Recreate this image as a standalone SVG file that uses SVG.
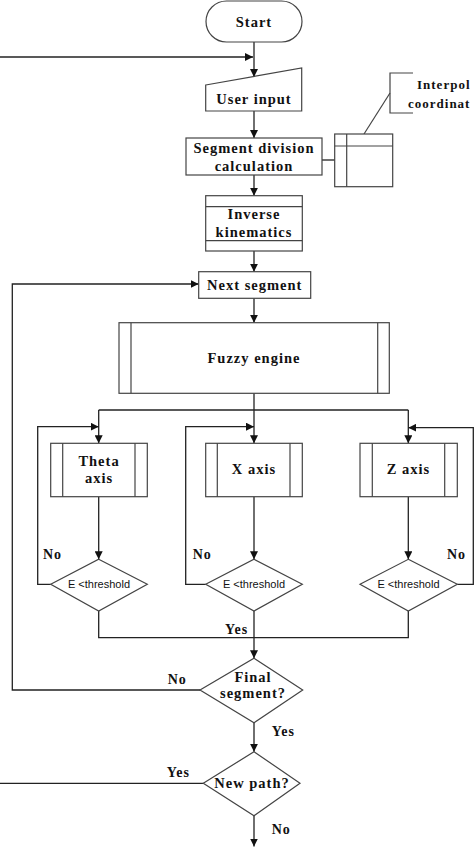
<svg xmlns="http://www.w3.org/2000/svg" width="474" height="847" viewBox="0 0 474 847">
<defs>
<marker id="ah" viewBox="0 0 10 10" refX="10" refY="5" markerWidth="8" markerHeight="8" markerUnits="userSpaceOnUse" orient="auto">
<path d="M0,0 L10,5 L0,10 z" fill="#111"/>
</marker>
<style>
.n{fill:#fff;stroke:#444;stroke-width:1.2}
.l{fill:none;stroke:#444;stroke-width:1.2}
.c{fill:none;stroke:#222;stroke-width:1.3}
.a{marker-end:url(#ah)}
.t{font-family:"Liberation Serif",serif;font-weight:bold;font-size:14.5px;letter-spacing:1px;fill:#111;text-anchor:middle}
.s{font-family:"Liberation Sans",Arial,sans-serif;font-size:11px;fill:#111;text-anchor:middle}
.lb{font-family:"Liberation Serif",serif;font-weight:bold;font-size:14px;letter-spacing:1px;fill:#111}
.an{font-family:"Liberation Serif",serif;font-weight:bold;font-size:13px;letter-spacing:1px;fill:#111}
</style>
</defs>
<rect width="474" height="847" fill="#fff"/>
<g id="connectors">
<line class="c a" x1="0" y1="57" x2="253" y2="57" style="stroke-width:1.6"/>
<line class="c a" x1="254" y1="42" x2="254" y2="77"/>
<line class="c a" x1="254" y1="111" x2="254" y2="138"/>
<line class="c" x1="322" y1="160" x2="335" y2="160"/>
<line class="c a" x1="254" y1="175" x2="254" y2="195.7"/>
<line class="c a" x1="254" y1="251" x2="254" y2="271.7"/>
<line class="c a" x1="254" y1="298.3" x2="254" y2="322.7"/>
<line class="c" x1="254" y1="393.3" x2="254" y2="410"/>
<line class="c" x1="98.7" y1="410" x2="408.3" y2="410"/>
<line class="c a" x1="98.7" y1="410" x2="98.7" y2="443.3"/>
<line class="c a" x1="254" y1="410" x2="254" y2="443.3"/>
<line class="c a" x1="408.3" y1="410" x2="408.3" y2="443.3"/>
<line class="c a" x1="98.7" y1="496.7" x2="98.7" y2="559.3"/>
<line class="c a" x1="254" y1="496.7" x2="254" y2="559.3"/>
<line class="c a" x1="408.3" y1="496.7" x2="408.3" y2="559.3"/>
<polyline class="c a" points="50.7,584.3 37.7,584.3 37.7,426.7 98.7,426.7"/>
<polyline class="c a" points="205.7,584.3 185.7,584.3 185.7,426.7 254,426.7"/>
<polyline class="c a" points="457.3,584.3 473.3,584.3 473.3,427.7 408.3,427.7"/>
<polyline class="c" points="98.7,611 98.7,637.7 408.3,637.7 408.3,611"/>
<line class="c a" x1="254" y1="611" x2="254" y2="658.3"/>
<polyline class="c a" points="200,690 12.3,690 12.3,284 198.7,284"/>
<line class="c a" x1="254" y1="722.7" x2="254" y2="751.7"/>
<line class="c" x1="203.3" y1="783.3" x2="0" y2="783.3"/>
<line class="c a" x1="254" y1="815.7" x2="254" y2="846.5"/>
<line class="l" x1="364" y1="134" x2="390" y2="93"/>
<path class="l" d="M413,73 H390 V113 H413"/>
</g>
<g id="start">
<rect class="n" x="206" y="1" width="96" height="41" rx="20.5"/>
<text class="t" x="254" y="27">Start</text>
</g>
<g id="user-input">
<polygon class="n" points="205.7,85 301.7,68 301.7,111 205.7,111"/>
<text class="t" x="254" y="104">User input</text>
</g>
<g id="segment-division">
<rect class="n" x="186" y="138" width="136" height="37"/>
<text class="t" x="254" y="153.3">Segment division</text>
<text class="t" x="254" y="170.7">calculation</text>
</g>
<g id="data-store">
<rect class="n" x="334.7" y="134" width="58" height="52.7"/>
<line class="l" x1="346.7" y1="134" x2="346.7" y2="186.7"/>
<line class="l" x1="334.7" y1="146" x2="392.7" y2="146"/>
</g>
<g id="annotation">
<text class="an" x="417" y="89">Interpol</text>
<text class="an" x="408" y="108">coordinat</text>
</g>
<g id="inverse-kinematics">
<rect class="n" x="205.7" y="195.7" width="96.6" height="55.3"/>
<line class="l" x1="205.7" y1="206.7" x2="302.3" y2="206.7"/>
<line class="l" x1="205.7" y1="240.7" x2="302.3" y2="240.7"/>
<text class="t" x="254" y="219.3">Inverse</text>
<text class="t" x="254" y="237.3">kinematics</text>
</g>
<g id="next-segment">
<rect class="n" x="198.7" y="271.7" width="112" height="26.6"/>
<text class="t" x="254.7" y="290">Next segment</text>
</g>
<g id="fuzzy-engine">
<rect class="n" x="119" y="322.7" width="270.3" height="70.6"/>
<line class="l" x1="131" y1="322.7" x2="131" y2="393.3"/>
<line class="l" x1="377.7" y1="322.7" x2="377.7" y2="393.3"/>
<text class="t" x="254" y="363.3">Fuzzy engine</text>
</g>
<g id="theta-axis">
<rect class="n" x="50.7" y="443.3" width="96.6" height="53.4"/>
<line class="l" x1="62.7" y1="443.3" x2="62.7" y2="496.7"/>
<line class="l" x1="135" y1="443.3" x2="135" y2="496.7"/>
<text class="t" x="99" y="466">Theta</text>
<text class="t" x="99" y="483.3">axis</text>
</g>
<g id="x-axis">
<rect class="n" x="205.7" y="443.3" width="96.6" height="53.4"/>
<line class="l" x1="217.3" y1="443.3" x2="217.3" y2="496.7"/>
<line class="l" x1="290" y1="443.3" x2="290" y2="496.7"/>
<text class="t" x="254" y="474.3">X axis</text>
</g>
<g id="z-axis">
<rect class="n" x="360" y="443.3" width="97.3" height="53.4"/>
<line class="l" x1="372.3" y1="443.3" x2="372.3" y2="496.7"/>
<line class="l" x1="444.7" y1="443.3" x2="444.7" y2="496.7"/>
<text class="t" x="408.5" y="474.3">Z axis</text>
</g>
<g id="theta-check">
<polygon class="n" points="98.7,559.3 147.3,584.3 98.7,611 50.7,584.3"/>
<text class="s" x="99" y="588.3">E &lt;threshold</text>
</g>
<g id="x-check">
<polygon class="n" points="254,559.3 302.3,584.3 254,611 205.7,584.3"/>
<text class="s" x="254" y="588.3">E &lt;threshold</text>
</g>
<g id="z-check">
<polygon class="n" points="408.3,559.3 457.3,584.3 408.3,611 360,584.3"/>
<text class="s" x="408.5" y="588.3">E &lt;threshold</text>
</g>
<g id="final-segment">
<polygon class="n" points="254,658.3 302.7,690 254,722.7 200,690"/>
<text class="t" x="253" y="682.3">Final</text>
<text class="t" x="253" y="698.3">segment?</text>
</g>
<g id="new-path">
<polygon class="n" points="254,751.7 300,783.3 254,815.7 203.3,783.3"/>
<text class="t" x="252" y="788.3">New path?</text>
</g>
<g id="labels">
<text class="lb" x="43" y="559.3">No</text>
<text class="lb" x="192.7" y="559.3">No</text>
<text class="lb" x="447" y="559.3">No</text>
<text class="lb" x="225" y="633.7">Yes</text>
<text class="lb" x="167.7" y="684.3">No</text>
<text class="lb" x="271.7" y="736">Yes</text>
<text class="lb" x="166.7" y="777.3">Yes</text>
<text class="lb" x="271.7" y="834">No</text>
</g>
</svg>
